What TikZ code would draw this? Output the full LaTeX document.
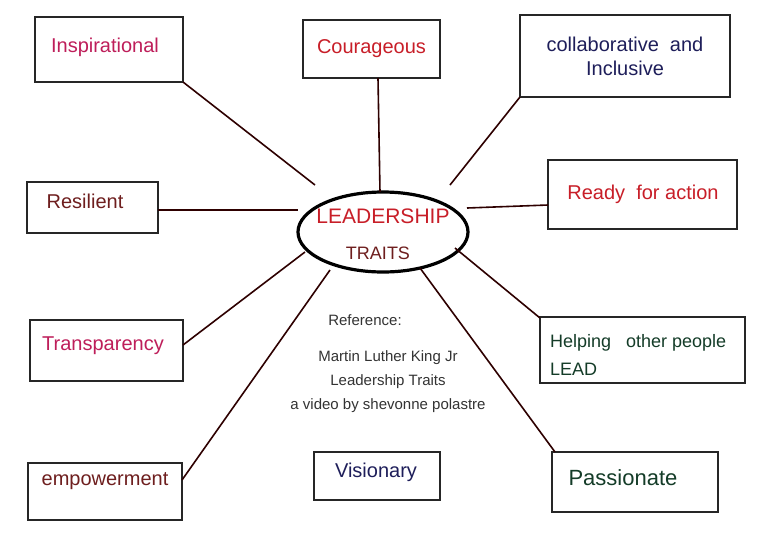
\documentclass[tikz,border=0pt]{standalone}
\usepackage{fontspec}
\setmainfont{Liberation Sans}
\begin{document}
\begin{tikzpicture}[x=0.5pt,y=-0.5pt,
  box/.style={draw=black!85,line width=0.9pt,rectangle,inner sep=0pt},
  con/.style={draw=black!70!red!60!black,line width=0.8pt}]
\useasboundingbox[fill=white] (0,0) rectangle (768,543);
\definecolor{mag}{RGB}{190,30,90}
\definecolor{rd}{RGB}{200,30,40}
\definecolor{nv}{RGB}{30,30,90}
\definecolor{dg}{RGB}{20,60,40}
\definecolor{br}{RGB}{110,30,30}
\def\bx#1#2#3#4#5{\draw[box] (#2,#3) rectangle (#4,#5); \coordinate (#1) at ({(#2+#4)/2},{(#3+#5)/2});}
\bx{ins}{35}{17}{183}{82}
\bx{cou}{303}{20}{440}{78}
\bx{col}{520}{15}{730}{97}
\bx{res}{27}{182}{158}{233}
\bx{rea}{548}{160}{737}{229}
\bx{tra}{30}{320}{183}{381}
\bx{hel}{540}{317}{745}{383}
\bx{emp}{28}{463}{182}{520}
\bx{vis}{314}{452}{440}{500}
\bx{pas}{552}{452}{718}{512}
\node[mag,font=\fontsize{10}{12}\selectfont] at (105,47) {Inspirational};
\node[rd,font=\fontsize{10}{12}\selectfont] at (cou) {Courageous};
\node[nv,font=\fontsize{10}{12}\selectfont,align=center] at (col) {collaborative\ \ and\\Inclusive};
\node[br,font=\fontsize{10}{12}\selectfont] at (85,201) {Resilient};
\node[rd,font=\fontsize{10}{12}\selectfont] at (643,194) {Ready\ \ for action};
\node[mag,font=\fontsize{10}{12}\selectfont] at (103,346) {Transparency};
\node[dg,font=\fontsize{9}{14}\selectfont,align=left,anchor=west] at (543,355) {Helping\ \ \ other people\\LEAD};
\node[br,font=\fontsize{10}{12}\selectfont] at (105,481) {empowerment};
\node[nv,font=\fontsize{10}{12}\selectfont] at (376,472) {Visionary};
\node[dg,font=\fontsize{11}{13}\selectfont] at (623,478) {Passionate};
\coordinate (e) at (383,232);
\draw[black,line width=1.6pt] (e) ellipse [x radius=85, y radius=40];
\node[rd,font=\fontsize{10.5}{12}\selectfont] at (383,216) {LEADERSHIP};
\node[br,font=\fontsize{9}{11}\selectfont] at (378,253) {TRAITS};
\draw[con] (183,82) -- (315,185);
\draw[con] (378,78) -- (380,192);
\draw[con] (520,97) -- (450,185);
\draw[con] (548,205) -- (467,208);
\draw[con] (540,318) -- (455,248);
\draw[con] (555,452) -- (420,268);
\draw[con] (158,210) -- (298,210);
\draw[con] (183,345) -- (305,252);
\draw[con] (182,480) -- (330,270);
\node[black!80,font=\fontsize{7.5}{9}\selectfont] at (365,320) {Reference:};
\node[black!80,font=\fontsize{7.5}{9}\selectfont,align=center] at (388,382) {Martin Luther King Jr\\[3pt]Leadership Traits\\[3pt]a video by shevonne polastre};
\end{tikzpicture}
\end{document}
